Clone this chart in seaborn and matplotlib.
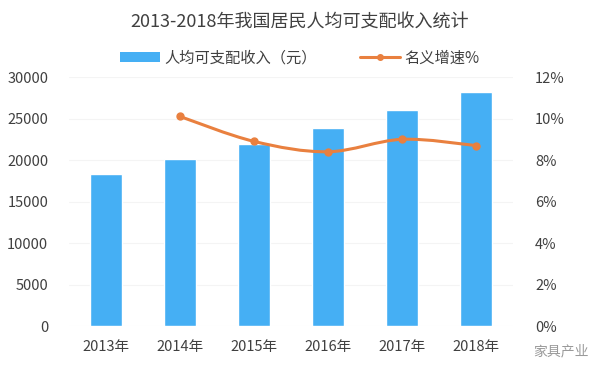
import numpy as np
import pandas as pd
import seaborn as sns
import matplotlib.pyplot as plt
from matplotlib.path import Path
from matplotlib.patches import PathPatch
from matplotlib.lines import Line2D
from matplotlib.patches import Patch

years = ['2013年', '2014年', '2015年', '2016年', '2017年', '2018年']
income = [18311, 20167, 21966, 23821, 25974, 28228]
growth_years = ['2014年', '2015年', '2016年', '2017年', '2018年']
growth = [10.1, 8.9, 8.4, 9.0, 8.7]

bar_color = '#45AFF4'
line_color = '#E9803F'
text_color = '#404040'

sns.set_theme(style='white')
plt.rcParams['font.family'] = ['Noto Sans CJK SC', 'DejaVu Sans']


def smooth_path(xs, ys, tension=1 / 6):
    # catmull-rom style bezier through the points (excel "smoothed line")
    xs = np.asarray(xs, float)
    ys = np.asarray(ys, float)
    verts = [(xs[0], ys[0])]
    codes = [Path.MOVETO]
    n = len(xs)
    for i in range(n - 1):
        p0 = (xs[max(i - 1, 0)], ys[max(i - 1, 0)])
        p1 = (xs[i], ys[i])
        p2 = (xs[i + 1], ys[i + 1])
        p3 = (xs[min(i + 2, n - 1)], ys[min(i + 2, n - 1)])
        c1 = (p1[0] + (p2[0] - p0[0]) * tension, p1[1] + (p2[1] - p0[1]) * tension)
        c2 = (p2[0] - (p3[0] - p1[0]) * tension, p2[1] - (p3[1] - p1[1]) * tension)
        verts += [c1, c2, p2]
        codes += [Path.CURVE4] * 3
    return Path(verts, codes)


df = pd.DataFrame({'year': years, 'income': income})

fig = plt.figure(figsize=(6, 3.74), dpi=100)
ax = fig.add_axes([0.115, 0.128, 0.74, 0.666])

sns.barplot(data=df, x='year', y='income', color=bar_color, width=0.42,
            saturation=1, ax=ax)
ax.set_ylim(0, 30000)
ax.set_yticks(range(0, 30001, 5000))
ax.set_xlabel('')
ax.set_ylabel('')
ax.tick_params(axis='y', length=0, pad=15, labelsize=10.5, labelcolor=text_color)
ax.tick_params(axis='x', length=0, pad=10, labelsize=10.5, labelcolor=text_color)
ax.yaxis.grid(True, color='#f4f4f4', linewidth=0.8)
ax.set_axisbelow(True)
for s in ax.spines.values():
    s.set_visible(False)

ax2 = ax.twinx()
gx = [years.index(y) for y in growth_years]
ax2.add_patch(PathPatch(smooth_path(gx, growth), facecolor='none',
                        edgecolor=line_color, linewidth=2.2, zorder=3))
ax2.plot(gx, growth, linestyle='none', marker='o', markersize=5,
         color=line_color, zorder=4)
ax2.set_ylim(0, 12)
ax2.set_yticks(range(0, 13, 2))
ax2.set_yticklabels([f'{v}%' for v in range(0, 13, 2)])
ax2.tick_params(axis='y', length=0, pad=16, labelsize=10.5, labelcolor=text_color)
for s in ax2.spines.values():
    s.set_visible(False)
ax.set_xlim(-0.5, 5.5)

fig.text(0.5, 0.94, '2013-2018年我国居民人均可支配收入统计', ha='center', va='center',
         fontsize=13, color=text_color)

handles = [Patch(facecolor=bar_color, edgecolor='none'),
           Line2D([0], [0], color=line_color, linewidth=2.2, marker='o', markersize=4)]
fig.legend(handles, ['人均可支配收入（元）', '名义增速%'], loc='center',
           bbox_to_anchor=(0.5, 0.845), ncol=2, frameon=False, fontsize=11,
           handlelength=2.6, handleheight=0.6, columnspacing=2.8, handletextpad=0.3,
           labelcolor=text_color)

fig.text(0.935, 0.06, '家具产业', ha='center', va='center', fontsize=10,
         color='#9a9a9a')

fig.savefig('out.png', dpi=100)
